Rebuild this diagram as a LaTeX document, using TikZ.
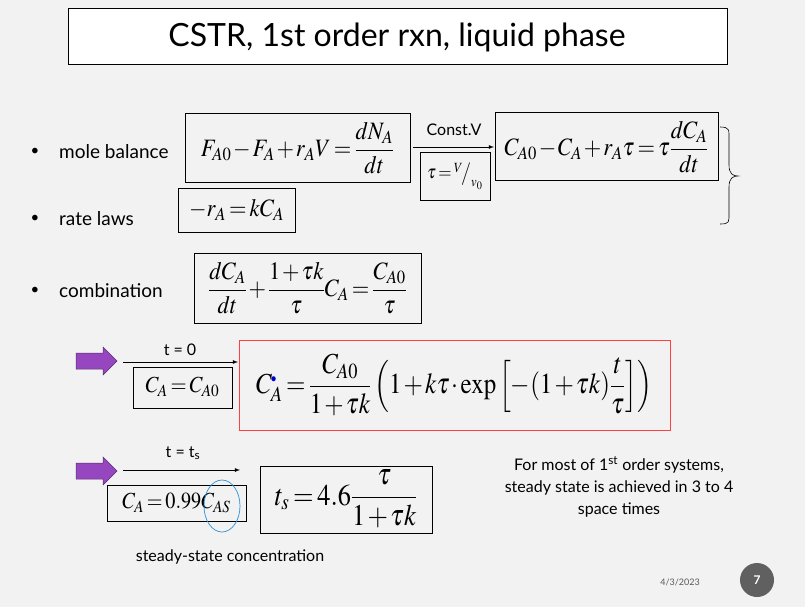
\documentclass[tikz,border=0pt]{standalone}
\usepackage{amsmath}
\usepackage{fontspec}
\usepackage{mathptmx}
\setmainfont{Lato}
\medmuskip=1.5mu
\thickmuskip=2.5mu
\begin{document}
\begin{tikzpicture}[x=1pt,y=-1pt,
  txt/.style={font=\fontsize{19}{22}\selectfont,inner sep=0pt},
  eq/.style={font=\fontsize{25}{28}\selectfont,inner sep=0pt,xscale=0.9}]
\fill[gray!10] (0,0) rectangle (805,607);
\useasboundingbox (0,0) rectangle (805,607);
\definecolor{pur}{RGB}{150,70,190}
% title
\draw[line width=0.8pt,fill=white] (68,8) rectangle (727,64);
\node[inner sep=0pt,font=\fontsize{32}{36}\selectfont] (title) at (397,37) {CSTR, 1st order rxn, liquid phase};
% bullets
\node[txt,font=\fontsize{15}{18}\selectfont] (d1) at (35,152) {\textbullet}; \node[txt,anchor=west] (b1) at (59,152) {mole balance};
\node[txt,font=\fontsize{15}{18}\selectfont] (d2) at (35,219) {\textbullet}; \node[txt,anchor=west] (b2) at (59,219) {rate laws};
\node[txt,font=\fontsize{15}{18}\selectfont] (d3) at (35,291) {\textbullet}; \node[txt,anchor=west] (b3) at (59,291) {combination};
% mole balance
\draw[line width=0.7pt] (185,113) rectangle (410,182);
\node[eq] (mb) at (297.5,148) {$F_{A0}-F_A+r_AV=\dfrac{dN_A}{dt}$};
\node[inner sep=0pt,font=\fontsize{16}{18}\selectfont] (cv) at (454,130) {Const.V};
\coordinate (a1s) at (413,147); \coordinate (a1e) at (494,147);
\draw[-latex,line width=0.8pt] (a1s) -- (a1e);
\draw[line width=0.7pt] (420,152) rectangle (490,200);
\node[inner sep=0pt,font=\fontsize{19}{21}\selectfont,xscale=0.9] (tau) at (455,176) {$\tau={}^{V}\!\big/_{v_0}$};
\draw[line width=0.7pt] (495,112) rectangle (718,180);
\node[eq] (mb2) at (606.5,147) {$C_{A0}-C_A+r_A\tau=\tau\dfrac{dC_A}{dt}$};
\draw[line width=0.6pt] (720,127) .. controls (730,127) and (729,130) .. (729,140) -- (729,165) .. controls (729,174) and (733,176) .. (738,176)
  .. controls (733,176) and (729,178) .. (729,187) -- (729,212) .. controls (729,222) and (730,224) .. (720,224);
% rate law
\draw[line width=0.7pt] (178,188) rectangle (295,232);
\node[eq] (rl) at (236.5,210) {$-r_A=kC_A$};
% combination
\draw[line width=0.7pt] (194,253) rectangle (421,323);
\node[eq] (cb) at (307.5,288) {$\dfrac{dC_A}{dt}+\dfrac{1+\tau k}{\tau}C_A=\dfrac{C_{A0}}{\tau}$};
% row t=0
\draw[fill=pur,draw=pur!60!black,line width=0.5pt] (76,353) -- (103,353) -- (103,347) -- (117,361) -- (103,375) -- (103,369) -- (76,369) -- cycle;
\node[inner sep=0pt,font=\fontsize{16}{18}\selectfont] (t0) at (180,350) {t = 0};
\coordinate (a2s) at (123,362); \coordinate (a2e) at (238,362);
\draw[-latex,line width=0.8pt] (a2s) -- (a2e);
\draw[line width=0.7pt] (133,367) rectangle (232,408);
\node[eq,font=\fontsize{23}{26}\selectfont] (ic) at (182.5,387) {$C_A=C_{A0}$};
\draw[red!75!white,line width=0.9pt] (239,340) rectangle (670,430);
\node[inner sep=0pt,font=\fontsize{29}{32}\selectfont,xscale=0.86] (sol) at (454,385) {$C_A^{\hspace{-0.05em}\textcolor{blue!80!black}{\scalebox{0.45}{$\bullet$}}}=\dfrac{C_{A0}}{1+\tau k}\left(1+k\tau\cdot\exp\left[-(1+\tau k)\dfrac{t}{\tau}\right]\right)$};
% row t=ts
\draw[fill=pur,draw=pur!60!black,line width=0.5pt] (76,463) -- (103,463) -- (103,457) -- (117,471) -- (103,485) -- (103,479) -- (76,479) -- cycle;
\node[inner sep=0pt,font=\fontsize{16}{18}\selectfont] (tts) at (183,453) {t = t\textsubscript{s}};
\coordinate (a3s) at (123,470); \coordinate (a3e) at (240,470);
\draw[-latex,line width=0.8pt] (a3s) -- (a3e);
\draw[line width=0.7pt] (107,485) rectangle (246,521);
\node[inner sep=0pt,font=\fontsize{23}{26}\selectfont,xscale=0.88] (ss) at (176.5,503) {$C_A=0.99C_{AS}$};
\draw[blue!40!cyan!70!gray,line width=0.7pt] (222,506) ellipse (18 and 26);
\draw[line width=0.7pt] (260,466) rectangle (432,533);
\node[inner sep=0pt,font=\fontsize{30}{34}\selectfont,xscale=0.88] (ts) at (346,499) {$t_s=4.6\dfrac{\tau}{1+\tau k}$};
\node[inner sep=0pt,font=\fontsize{16}{22}\selectfont,align=center] (note) at (619,487) {For most of 1\textsuperscript{st} order systems,\\steady state is achieved in 3 to 4\\space times};
\node[inner sep=0pt,font=\fontsize{16}{19}\selectfont] (ssc) at (230,557) {steady-state concentration};
\node[inner sep=0pt,font=\fontsize{9}{11}\selectfont,text=gray!70!black] (date) at (680,582) {4/3/2023};
\fill[gray!75!black] (757,580) circle (17);
\node[inner sep=0pt,font=\bfseries\fontsize{12}{14}\selectfont,text=white] (pg) at (757,580) {7};
\end{tikzpicture}
\end{document}
